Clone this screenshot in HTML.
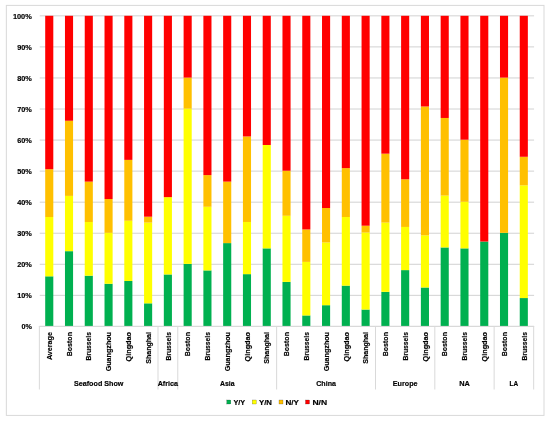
<!DOCTYPE html>
<html lang="en"><head><meta charset="utf-8"><title>Chart</title>
<style>html,body{margin:0;padding:0;background:#fff;}body{width:550px;height:423px;overflow:hidden;}</style></head>
<body>
<svg width="550" height="423" viewBox="0 0 550 423" style="display:block">
<rect x="0" y="0" width="550" height="423" fill="#ffffff"/>
<rect x="6.35" y="5.4" width="537.65" height="410" fill="#ffffff" stroke="#D9D9D9" stroke-width="1"/>
<line x1="39.76" x2="534.08" y1="326.40" y2="326.40" stroke="#D2D2D2" stroke-width="1"/>
<line x1="39.76" x2="534.08" y1="295.34" y2="295.34" stroke="#D2D2D2" stroke-width="1"/>
<line x1="39.76" x2="534.08" y1="264.29" y2="264.29" stroke="#D2D2D2" stroke-width="1"/>
<line x1="39.76" x2="534.08" y1="233.23" y2="233.23" stroke="#D2D2D2" stroke-width="1"/>
<line x1="39.76" x2="534.08" y1="202.18" y2="202.18" stroke="#D2D2D2" stroke-width="1"/>
<line x1="39.76" x2="534.08" y1="171.12" y2="171.12" stroke="#D2D2D2" stroke-width="1"/>
<line x1="39.76" x2="534.08" y1="140.07" y2="140.07" stroke="#D2D2D2" stroke-width="1"/>
<line x1="39.76" x2="534.08" y1="109.01" y2="109.01" stroke="#D2D2D2" stroke-width="1"/>
<line x1="39.76" x2="534.08" y1="77.96" y2="77.96" stroke="#D2D2D2" stroke-width="1"/>
<line x1="39.76" x2="534.08" y1="46.90" y2="46.90" stroke="#D2D2D2" stroke-width="1"/>
<line x1="39.76" x2="534.08" y1="15.85" y2="15.85" stroke="#D2D2D2" stroke-width="1"/>
<line x1="39.36" x2="39.36" y1="326.40" y2="389.50" stroke="#D9D9D9" stroke-width="1"/>
<line x1="158.00" x2="158.00" y1="326.40" y2="389.50" stroke="#D9D9D9" stroke-width="1"/>
<line x1="177.77" x2="177.77" y1="326.40" y2="389.50" stroke="#D9D9D9" stroke-width="1"/>
<line x1="276.64" x2="276.64" y1="326.40" y2="389.50" stroke="#D9D9D9" stroke-width="1"/>
<line x1="375.50" x2="375.50" y1="326.40" y2="389.50" stroke="#D9D9D9" stroke-width="1"/>
<line x1="434.82" x2="434.82" y1="326.40" y2="389.50" stroke="#D9D9D9" stroke-width="1"/>
<line x1="494.14" x2="494.14" y1="326.40" y2="389.50" stroke="#D9D9D9" stroke-width="1"/>
<line x1="533.68" x2="533.68" y1="326.40" y2="389.50" stroke="#D9D9D9" stroke-width="1"/>
<g shape-rendering="auto">
<rect x="45.20" y="276.32" width="8.10" height="49.68" fill="#00B050"/>
<rect x="45.20" y="217.01" width="8.10" height="59.31" fill="#FFFF00"/>
<rect x="45.20" y="169.20" width="8.10" height="47.82" fill="#FFC000"/>
<rect x="45.20" y="15.80" width="8.10" height="153.40" fill="#FF0000"/>
<rect x="64.97" y="251.17" width="8.10" height="74.83" fill="#00B050"/>
<rect x="64.97" y="195.90" width="8.10" height="55.27" fill="#FFFF00"/>
<rect x="64.97" y="120.76" width="8.10" height="75.14" fill="#FFC000"/>
<rect x="64.97" y="15.80" width="8.10" height="104.96" fill="#FF0000"/>
<rect x="84.74" y="275.70" width="8.10" height="50.30" fill="#00B050"/>
<rect x="84.74" y="221.98" width="8.10" height="53.72" fill="#FFFF00"/>
<rect x="84.74" y="181.62" width="8.10" height="40.37" fill="#FFC000"/>
<rect x="84.74" y="15.80" width="8.10" height="165.82" fill="#FF0000"/>
<rect x="104.52" y="283.77" width="8.10" height="42.23" fill="#00B050"/>
<rect x="104.52" y="232.85" width="8.10" height="50.92" fill="#FFFF00"/>
<rect x="104.52" y="199.01" width="8.10" height="33.84" fill="#FFC000"/>
<rect x="104.52" y="15.80" width="8.10" height="183.21" fill="#FF0000"/>
<rect x="124.29" y="280.98" width="8.10" height="45.02" fill="#00B050"/>
<rect x="124.29" y="220.74" width="8.10" height="60.24" fill="#FFFF00"/>
<rect x="124.29" y="159.88" width="8.10" height="60.86" fill="#FFC000"/>
<rect x="124.29" y="15.80" width="8.10" height="144.08" fill="#FF0000"/>
<rect x="144.06" y="303.33" width="8.10" height="22.67" fill="#00B050"/>
<rect x="144.06" y="222.60" width="8.10" height="80.73" fill="#FFFF00"/>
<rect x="144.06" y="216.70" width="8.10" height="5.90" fill="#FFC000"/>
<rect x="144.06" y="15.80" width="8.10" height="200.90" fill="#FF0000"/>
<rect x="163.83" y="274.46" width="8.10" height="51.54" fill="#00B050"/>
<rect x="163.83" y="197.14" width="8.10" height="77.31" fill="#FFFF00"/>
<rect x="163.83" y="15.80" width="8.10" height="181.34" fill="#FF0000"/>
<rect x="183.61" y="263.90" width="8.10" height="62.10" fill="#00B050"/>
<rect x="183.61" y="108.65" width="8.10" height="155.25" fill="#FFFF00"/>
<rect x="183.61" y="77.60" width="8.10" height="31.05" fill="#FFC000"/>
<rect x="183.61" y="15.80" width="8.10" height="61.80" fill="#FF0000"/>
<rect x="203.38" y="270.42" width="8.10" height="55.58" fill="#00B050"/>
<rect x="203.38" y="206.77" width="8.10" height="63.65" fill="#FFFF00"/>
<rect x="203.38" y="175.10" width="8.10" height="31.67" fill="#FFC000"/>
<rect x="203.38" y="15.80" width="8.10" height="159.30" fill="#FF0000"/>
<rect x="223.15" y="243.10" width="8.10" height="82.90" fill="#00B050"/>
<rect x="223.15" y="181.62" width="8.10" height="61.48" fill="#FFC000"/>
<rect x="223.15" y="15.80" width="8.10" height="165.82" fill="#FF0000"/>
<rect x="242.93" y="274.15" width="8.10" height="51.85" fill="#00B050"/>
<rect x="242.93" y="221.98" width="8.10" height="52.16" fill="#FFFF00"/>
<rect x="242.93" y="136.44" width="8.10" height="85.54" fill="#FFC000"/>
<rect x="242.93" y="15.80" width="8.10" height="120.64" fill="#FF0000"/>
<rect x="262.70" y="248.38" width="8.10" height="77.62" fill="#00B050"/>
<rect x="262.70" y="144.98" width="8.10" height="103.40" fill="#FFFF00"/>
<rect x="262.70" y="15.80" width="8.10" height="129.18" fill="#FF0000"/>
<rect x="282.47" y="281.91" width="8.10" height="44.09" fill="#00B050"/>
<rect x="282.47" y="215.77" width="8.10" height="66.14" fill="#FFFF00"/>
<rect x="282.47" y="170.75" width="8.10" height="45.02" fill="#FFC000"/>
<rect x="282.47" y="15.80" width="8.10" height="154.95" fill="#FF0000"/>
<rect x="302.25" y="315.44" width="8.10" height="10.56" fill="#00B050"/>
<rect x="302.25" y="261.88" width="8.10" height="53.56" fill="#FFFF00"/>
<rect x="302.25" y="229.43" width="8.10" height="32.45" fill="#FFC000"/>
<rect x="302.25" y="15.80" width="8.10" height="213.63" fill="#FF0000"/>
<rect x="322.02" y="305.20" width="8.10" height="20.80" fill="#00B050"/>
<rect x="322.02" y="242.48" width="8.10" height="62.72" fill="#FFFF00"/>
<rect x="322.02" y="208.01" width="8.10" height="34.47" fill="#FFC000"/>
<rect x="322.02" y="15.80" width="8.10" height="192.21" fill="#FF0000"/>
<rect x="341.79" y="285.63" width="8.10" height="40.37" fill="#00B050"/>
<rect x="341.79" y="217.01" width="8.10" height="68.62" fill="#FFFF00"/>
<rect x="341.79" y="168.11" width="8.10" height="48.90" fill="#FFC000"/>
<rect x="341.79" y="15.80" width="8.10" height="152.31" fill="#FF0000"/>
<rect x="361.56" y="309.54" width="8.10" height="16.46" fill="#00B050"/>
<rect x="361.56" y="232.54" width="8.10" height="77.00" fill="#FFFF00"/>
<rect x="361.56" y="225.71" width="8.10" height="6.83" fill="#FFC000"/>
<rect x="361.56" y="15.80" width="8.10" height="209.91" fill="#FF0000"/>
<rect x="381.34" y="291.85" width="8.10" height="34.15" fill="#00B050"/>
<rect x="381.34" y="222.60" width="8.10" height="69.24" fill="#FFFF00"/>
<rect x="381.34" y="153.67" width="8.10" height="68.93" fill="#FFC000"/>
<rect x="381.34" y="15.80" width="8.10" height="137.87" fill="#FF0000"/>
<rect x="401.11" y="270.11" width="8.10" height="55.89" fill="#00B050"/>
<rect x="401.11" y="226.95" width="8.10" height="43.16" fill="#FFFF00"/>
<rect x="401.11" y="179.29" width="8.10" height="47.66" fill="#FFC000"/>
<rect x="401.11" y="15.80" width="8.10" height="163.49" fill="#FF0000"/>
<rect x="420.88" y="287.50" width="8.10" height="38.50" fill="#00B050"/>
<rect x="420.88" y="235.33" width="8.10" height="52.16" fill="#FFFF00"/>
<rect x="420.88" y="106.48" width="8.10" height="128.86" fill="#FFC000"/>
<rect x="420.88" y="15.80" width="8.10" height="90.68" fill="#FF0000"/>
<rect x="440.66" y="247.44" width="8.10" height="78.56" fill="#00B050"/>
<rect x="440.66" y="195.59" width="8.10" height="51.85" fill="#FFFF00"/>
<rect x="440.66" y="117.97" width="8.10" height="77.62" fill="#FFC000"/>
<rect x="440.66" y="15.80" width="8.10" height="102.17" fill="#FF0000"/>
<rect x="460.43" y="248.38" width="8.10" height="77.62" fill="#00B050"/>
<rect x="460.43" y="201.80" width="8.10" height="46.57" fill="#FFFF00"/>
<rect x="460.43" y="139.70" width="8.10" height="62.10" fill="#FFC000"/>
<rect x="460.43" y="15.80" width="8.10" height="123.90" fill="#FF0000"/>
<rect x="480.20" y="241.54" width="8.10" height="84.46" fill="#00B050"/>
<rect x="480.20" y="15.80" width="8.10" height="225.74" fill="#FF0000"/>
<rect x="499.98" y="232.85" width="8.10" height="93.15" fill="#00B050"/>
<rect x="499.98" y="77.60" width="8.10" height="155.25" fill="#FFC000"/>
<rect x="499.98" y="15.80" width="8.10" height="61.80" fill="#FF0000"/>
<rect x="519.75" y="298.06" width="8.10" height="27.94" fill="#00B050"/>
<rect x="519.75" y="185.34" width="8.10" height="112.71" fill="#FFFF00"/>
<rect x="519.75" y="156.78" width="8.10" height="28.57" fill="#FFC000"/>
<rect x="519.75" y="15.80" width="8.10" height="140.98" fill="#FF0000"/>
</g>
<line x1="38.86" x2="534.18" y1="326.40" y2="326.40" stroke="#D9D9D9" stroke-width="1"/>
<g font-family="'Liberation Sans', Arial, sans-serif" font-weight="bold" font-size="8.00" fill="#000000" stroke="#000000" stroke-width="0.18">
<text x="31.8" y="329.15" text-anchor="end" textLength="10.38" lengthAdjust="spacingAndGlyphs">0%</text>
<text x="31.8" y="298.09" text-anchor="end" textLength="14.64" lengthAdjust="spacingAndGlyphs">10%</text>
<text x="31.8" y="267.04" text-anchor="end" textLength="14.64" lengthAdjust="spacingAndGlyphs">20%</text>
<text x="31.8" y="235.98" text-anchor="end" textLength="14.64" lengthAdjust="spacingAndGlyphs">30%</text>
<text x="31.8" y="204.93" text-anchor="end" textLength="14.64" lengthAdjust="spacingAndGlyphs">40%</text>
<text x="31.8" y="173.87" text-anchor="end" textLength="14.64" lengthAdjust="spacingAndGlyphs">50%</text>
<text x="31.8" y="142.82" text-anchor="end" textLength="14.64" lengthAdjust="spacingAndGlyphs">60%</text>
<text x="31.8" y="111.76" text-anchor="end" textLength="14.64" lengthAdjust="spacingAndGlyphs">70%</text>
<text x="31.8" y="80.71" text-anchor="end" textLength="14.64" lengthAdjust="spacingAndGlyphs">80%</text>
<text x="31.8" y="49.65" text-anchor="end" textLength="14.64" lengthAdjust="spacingAndGlyphs">90%</text>
<text x="31.8" y="18.60" text-anchor="end" textLength="18.90" lengthAdjust="spacingAndGlyphs">100%</text>
<text transform="translate(49.25,332) rotate(-90)" x="0" y="2.7" text-anchor="end" textLength="28.08" lengthAdjust="spacingAndGlyphs">Average</text>
<text transform="translate(69.02,332) rotate(-90)" x="0" y="2.7" text-anchor="end" textLength="24.34" lengthAdjust="spacingAndGlyphs">Boston</text>
<text transform="translate(88.79,332) rotate(-90)" x="0" y="2.7" text-anchor="end" textLength="28.55" lengthAdjust="spacingAndGlyphs">Brussels</text>
<text transform="translate(108.57,332) rotate(-90)" x="0" y="2.7" text-anchor="end" textLength="39.36" lengthAdjust="spacingAndGlyphs">Guangzhou</text>
<text transform="translate(128.34,332) rotate(-90)" x="0" y="2.7" text-anchor="end" textLength="29.39" lengthAdjust="spacingAndGlyphs">Qingdao</text>
<text transform="translate(148.11,332) rotate(-90)" x="0" y="2.7" text-anchor="end" textLength="31.83" lengthAdjust="spacingAndGlyphs">Shanghai</text>
<text transform="translate(167.88,332) rotate(-90)" x="0" y="2.7" text-anchor="end" textLength="28.55" lengthAdjust="spacingAndGlyphs">Brussels</text>
<text transform="translate(187.66,332) rotate(-90)" x="0" y="2.7" text-anchor="end" textLength="24.34" lengthAdjust="spacingAndGlyphs">Boston</text>
<text transform="translate(207.43,332) rotate(-90)" x="0" y="2.7" text-anchor="end" textLength="28.55" lengthAdjust="spacingAndGlyphs">Brussels</text>
<text transform="translate(227.20,332) rotate(-90)" x="0" y="2.7" text-anchor="end" textLength="39.36" lengthAdjust="spacingAndGlyphs">Guangzhou</text>
<text transform="translate(246.98,332) rotate(-90)" x="0" y="2.7" text-anchor="end" textLength="29.39" lengthAdjust="spacingAndGlyphs">Qingdao</text>
<text transform="translate(266.75,332) rotate(-90)" x="0" y="2.7" text-anchor="end" textLength="31.83" lengthAdjust="spacingAndGlyphs">Shanghai</text>
<text transform="translate(286.52,332) rotate(-90)" x="0" y="2.7" text-anchor="end" textLength="24.34" lengthAdjust="spacingAndGlyphs">Boston</text>
<text transform="translate(306.30,332) rotate(-90)" x="0" y="2.7" text-anchor="end" textLength="28.55" lengthAdjust="spacingAndGlyphs">Brussels</text>
<text transform="translate(326.07,332) rotate(-90)" x="0" y="2.7" text-anchor="end" textLength="39.36" lengthAdjust="spacingAndGlyphs">Guangzhou</text>
<text transform="translate(345.84,332) rotate(-90)" x="0" y="2.7" text-anchor="end" textLength="29.39" lengthAdjust="spacingAndGlyphs">Qingdao</text>
<text transform="translate(365.61,332) rotate(-90)" x="0" y="2.7" text-anchor="end" textLength="31.83" lengthAdjust="spacingAndGlyphs">Shanghai</text>
<text transform="translate(385.39,332) rotate(-90)" x="0" y="2.7" text-anchor="end" textLength="24.34" lengthAdjust="spacingAndGlyphs">Boston</text>
<text transform="translate(405.16,332) rotate(-90)" x="0" y="2.7" text-anchor="end" textLength="28.55" lengthAdjust="spacingAndGlyphs">Brussels</text>
<text transform="translate(424.93,332) rotate(-90)" x="0" y="2.7" text-anchor="end" textLength="29.39" lengthAdjust="spacingAndGlyphs">Qingdao</text>
<text transform="translate(444.71,332) rotate(-90)" x="0" y="2.7" text-anchor="end" textLength="24.34" lengthAdjust="spacingAndGlyphs">Boston</text>
<text transform="translate(464.48,332) rotate(-90)" x="0" y="2.7" text-anchor="end" textLength="28.55" lengthAdjust="spacingAndGlyphs">Brussels</text>
<text transform="translate(484.25,332) rotate(-90)" x="0" y="2.7" text-anchor="end" textLength="29.39" lengthAdjust="spacingAndGlyphs">Qingdao</text>
<text transform="translate(504.03,332) rotate(-90)" x="0" y="2.7" text-anchor="end" textLength="24.34" lengthAdjust="spacingAndGlyphs">Boston</text>
<text transform="translate(523.80,332) rotate(-90)" x="0" y="2.7" text-anchor="end" textLength="28.55" lengthAdjust="spacingAndGlyphs">Brussels</text>
<text x="98.68" y="386.2" text-anchor="middle" textLength="49.51" lengthAdjust="spacingAndGlyphs">Seafood Show</text>
<text x="167.88" y="386.2" text-anchor="middle" textLength="20.41" lengthAdjust="spacingAndGlyphs">Africa</text>
<text x="227.20" y="386.2" text-anchor="middle" textLength="14.65" lengthAdjust="spacingAndGlyphs">Asia</text>
<text x="326.07" y="386.2" text-anchor="middle" textLength="19.67" lengthAdjust="spacingAndGlyphs">China</text>
<text x="405.16" y="386.2" text-anchor="middle" textLength="24.74" lengthAdjust="spacingAndGlyphs">Europe</text>
<text x="464.48" y="386.2" text-anchor="middle" textLength="10.62" lengthAdjust="spacingAndGlyphs">NA</text>
<text x="513.91" y="386.2" text-anchor="middle" textLength="8.64" lengthAdjust="spacingAndGlyphs">LA</text>
<rect x="226.80" y="400" width="4" height="4" fill="#00B050"/>
<text x="233.40" y="404.8" textLength="11.78" lengthAdjust="spacingAndGlyphs">Y/Y</text>
<rect x="252.30" y="400" width="4" height="4" fill="#FFFF00"/>
<text x="259.00" y="404.8" textLength="12.95" lengthAdjust="spacingAndGlyphs">Y/N</text>
<rect x="279.00" y="400" width="4" height="4" fill="#FFC000"/>
<text x="285.40" y="404.8" textLength="13.51" lengthAdjust="spacingAndGlyphs">N/Y</text>
<rect x="305.50" y="400" width="4" height="4" fill="#FF0000"/>
<text x="312.40" y="404.8" textLength="14.68" lengthAdjust="spacingAndGlyphs">N/N</text>
</g>
</svg>
</body></html>
